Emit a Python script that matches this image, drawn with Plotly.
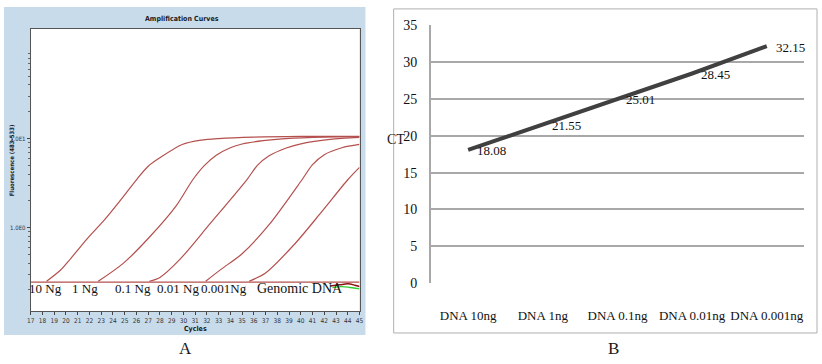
import plotly.graph_objects as go

W, H = 822, 364

# ---------------- Panel A data: amplification curves (cycle, fluorescence) ----------------
c1_x = [18.35, 19.5, 20.4, 21.8, 23.2, 24.6, 26.0, 27.0, 28.0, 29.9, 31.5, 33.0, 36.0, 40.0, 45.0]
c1_y = [0.25, 0.33, 0.45, 0.75, 1.19, 2.0, 3.45, 4.9, 6.1, 8.6, 9.6, 10.0, 10.4, 10.6, 10.6]
c2_x = [22.75, 24.9, 27.1, 29.4, 30.8, 31.8, 32.8, 34.0, 35.0, 36.8, 38.7, 42.0, 45.0]
c2_y = [0.25, 0.40, 0.78, 1.77, 3.45, 5.0, 6.5, 7.9, 8.7, 9.5, 10.0, 10.4, 10.5]
c3_x = [27.1, 28.0, 29.7, 32.2, 35.4, 36.3, 37.3, 38.7, 40.1, 42.5, 45.0]
c3_y = [0.25, 0.276, 0.44, 1.08, 3.45, 5.0, 6.4, 7.8, 8.8, 9.8, 10.3]
c4_x = [31.9, 33.2, 35.0, 37.3, 40.1, 41.0, 42.0, 43.5, 45.0]
c4_y = [0.25, 0.34, 0.51, 1.08, 3.45, 5.1, 6.6, 7.9, 8.6]
c5_x = [35.6, 37.0, 39.5, 41.8, 44.0, 45.0]
c5_y = [0.25, 0.31, 0.66, 1.52, 3.45, 4.75]
base_x = [17, 45]
base_y = [0.245, 0.245]
gen_x = [42.7, 43.5, 44.2, 45.0]
gen_y = [0.212, 0.218, 0.213, 0.205]
gen2_x = [42.5, 43.3, 44.0, 44.6, 45.0]
gen2_y = [0.222, 0.228, 0.234, 0.226, 0.218]
a_labels = ["10 Ng", "1 Ng", "0.1 Ng", "0.01 Ng", "0.001Ng", "Genomic DNA"]
a_label_x = [18.3, 21.65, 25.7, 29.5, 33.5, 39.9]
a_label_logy = [-0.68, -0.68, -0.68, -0.68, -0.68, -0.68]
a_xticks = list(range(17, 46))

# ---------------- Panel B data ----------------
b_cats = ["DNA 10ng", "DNA 1ng", "DNA 0.1ng", "DNA 0.01ng", "DNA 0.001ng"]
b_ct = [18.08, 21.55, 25.01, 28.45, 32.15]
b_yticks = [0, 5, 10, 15, 20, 25, 30, 35]


def px(x):
    return x / W


def py(y):
    return 1 - y / H


fig = go.Figure()

red = "#b4504e"
for xs, ys in [(base_x, base_y), (c1_x, c1_y), (c2_x, c2_y), (c3_x, c3_y), (c4_x, c4_y), (c5_x, c5_y)]:
    fig.add_trace(go.Scatter(x=xs, y=ys, mode="lines", line=dict(color=red, width=1.2, shape="spline", smoothing=0.8),
                             xaxis="x", yaxis="y", showlegend=False, hoverinfo="skip"))
fig.add_trace(go.Scatter(x=gen_x, y=gen_y, mode="lines", line=dict(color="#33cc33", width=1.3, shape="spline"),
                         xaxis="x", yaxis="y", showlegend=False))
fig.add_trace(go.Scatter(x=gen2_x, y=gen2_y, mode="lines", line=dict(color="#8b1010", width=1.5, shape="spline"),
                         xaxis="x", yaxis="y", showlegend=False))

# Panel B line
fig.add_trace(go.Scatter(x=b_cats, y=b_ct, mode="lines", line=dict(color="#404040", width=4),
                         xaxis="x2", yaxis="y2", showlegend=False))

serif = "Liberation Serif"
annotations = []
for t, x, y in zip(a_labels, a_label_x, a_label_logy):
    annotations.append(dict(text=t, x=x, y=y, xref="x", yref="y", showarrow=False,
                            xanchor="center", yanchor="middle",
                            font=dict(family=serif, size=14 if t == "Genomic DNA" else 13, color="#111")))
for c, v in zip(b_cats, b_ct):
    annotations.append(dict(text=f"{v:.2f}", x=c, y=v, xref="x2", yref="y2", showarrow=False,
                            xanchor="left", yanchor="middle", xshift=7, yshift=-1,
                            font=dict(family=serif, size=13, color="#111")))


def pa(text, x, y, size, family, angle=0):
    return dict(text=text, x=px(x), y=py(y), xref="paper", yref="paper", showarrow=False,
                xanchor="center", yanchor="middle", textangle=angle,
                font=dict(family=family, size=size, color="#1a1a1a"))


annotations += [
    pa("<b>Amplification Curves</b>", 180, 13, 7, "DejaVu Sans Condensed"),
    pa("<b>Cycles</b>", 193, 336, 7, "DejaVu Sans Condensed"),
    pa("<b>Fluorescence (483-533)</b>", 7, 160, 6, "DejaVu Sans Condensed", -90),
    pa("A", 183, 356, 17, serif),
    pa("B", 615, 356, 17, serif),
    pa("CT", 396, 138, 14, serif),
]

shapes = [
    dict(type="rect", xref="paper", yref="paper", x0=0, x1=px(365), y0=py(342), y1=1,
         fillcolor="#c8dbeb", line=dict(width=0), layer="below"),
    dict(type="rect", xref="paper", yref="paper", x0=px(27), x1=px(359), y0=py(317), y1=py(23),
         fillcolor="white", line=dict(width=0), layer="below"),
    dict(type="rect", xref="paper", yref="paper", x0=px(393.5), x1=px(821), y0=py(340), y1=py(2),
         fillcolor="white", line=dict(color="#b0b0b0", width=1), layer="below"),
]

minor_vals = [m * 10 ** e for e in (-1, 0, 1) for m in range(2, 10)]

fig.update_layout(
    width=W, height=H, margin=dict(l=0, r=0, t=0, b=0),
    paper_bgcolor="white", plot_bgcolor="rgba(0,0,0,0)",
    annotations=annotations, shapes=shapes,
    xaxis=dict(domain=[px(27), px(359)], range=[17, 45], tickmode="array", tickvals=a_xticks,
               ticks="outside", ticklen=3, tickcolor="#444", showgrid=False, zeroline=False,
               showline=True, linecolor="#555", linewidth=1, mirror=True,
               tickfont=dict(family="DejaVu Sans Condensed", size=6.5, color="#333"), anchor="y"),
    yaxis=dict(domain=[py(317), py(23)], type="log", range=[-0.935, 2.23], tickmode="array",
               tickvals=[1, 10], ticktext=["1.0E0", "1.0E1"], ticks="outside", ticklen=3, tickcolor="#444",
               minor=dict(tickvals=minor_vals, ticks="outside", ticklen=2, tickcolor="#666", showgrid=False),
               showgrid=False, zeroline=False, showline=True, linecolor="#555", linewidth=1, mirror=True,
               tickfont=dict(family="DejaVu Sans Condensed", size=6, color="#333"), anchor="x"),
    xaxis2=dict(domain=[px(431), px(808)], type="category", range=[-0.5, 4.5], ticks="outside",
                ticklen=20, tickcolor="rgba(0,0,0,0)", showgrid=False, zeroline=False, showline=False,
                tickangle=0, tickfont=dict(family=serif, size=13, color="#111"), anchor="y2"),
    yaxis2=dict(domain=[py(288), py(19)], range=[0, 35], tickmode="array", tickvals=b_yticks,
                ticks="outside", ticklen=9, tickcolor="rgba(0,0,0,0)", showgrid=True, gridcolor="#a8a8a8",
                gridwidth=1.5, zeroline=False, showline=True, linecolor="#a8a8a8", linewidth=1.5,
                tickfont=dict(family=serif, size=14, color="#111"), anchor="x2"),
)

fig.write_html("out.html", config={"displayModeBar": False},
               post_script="document.body.style.margin='0';document.body.style.overflow='hidden';")
